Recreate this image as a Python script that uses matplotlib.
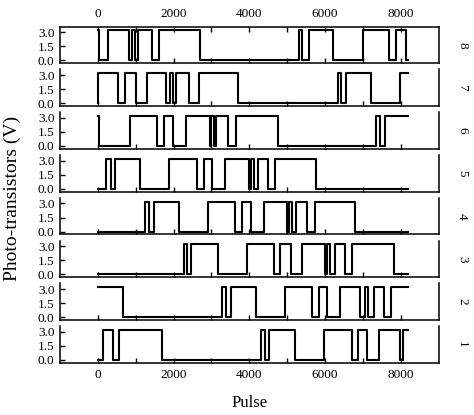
import matplotlib
matplotlib.use('Agg')
import matplotlib.pyplot as plt
from matplotlib.ticker import FixedLocator

plt.rcParams['font.family'] = ['Liberation Serif', 'DejaVu Serif']

# ---- data -------------------------------------------------------------
END_PULSE = 8192
HIGH = 3.2
channels = ['8', '7', '6', '5', '4', '3', '2', '1']

# initial state (1 = high) and pulse numbers at which the signal toggles
start_8 = 1
edges_8 = [30, 280, 820, 912, 970, 1050, 1436, 1611, 2706, 5316, 5395, 5570,
           6214, 6990, 7690, 7880, 8130]
start_7 = 0
edges_7 = [15, 530, 728, 995, 1306, 1810, 1905, 1985, 2050, 2400, 2665, 3708,
           6330, 6410, 6550, 7200, 7990]
start_6 = 1
edges_6 = [30, 858, 1569, 1745, 1990, 2314, 2960, 3000, 3065, 3120, 3440, 3660,
           4745, 7350, 7450, 7590]
start_5 = 0
edges_5 = [210, 342, 460, 1113, 1876, 2630, 2815, 3020, 3345, 3990, 4040, 4120,
           4230, 4505, 4670, 5750]
start_4 = 0
edges_4 = [1245, 1350, 1490, 2130, 2910, 3630, 3805, 4045, 4375, 4990, 5040,
           5118, 5240, 5530, 5725, 6790]
start_3 = 0
edges_3 = [2270, 2350, 2460, 3180, 3925, 4645, 4820, 5090, 5390, 6000, 6050,
           6125, 6260, 6530, 6718, 7825]
start_2 = 1
edges_2 = [660, 3285, 3390, 3520, 4176, 4943, 5662, 5830, 6060, 6405, 6930,
           7042, 7120, 7283, 7568, 7743]
start_1 = 0
edges_1 = [130, 390, 560, 1700, 4295, 4410, 4527, 5197, 5973, 6700, 6880, 7100,
           7432, 7965, 8070]

starts = [start_8, start_7, start_6, start_5, start_4, start_3, start_2, start_1]
edges = [edges_8, edges_7, edges_6, edges_5, edges_4, edges_3, edges_2, edges_1]

x_major = [0, 2000, 4000, 6000, 8000]
x_minor = [1000, 3000, 5000, 7000]
y_ticks = [0.0, 1.5, 3.0]
y_ticklabels = ['0.0', '1.5', '3.0']

# ---- layout -----------------------------------------------------------
W, H = 474, 415
fig = plt.figure(figsize=(W / 100, H / 100), dpi=100)
left_px, right_px = 60, 438.7
top0, ph, gap = 26.7, 36.5, 6.29

for i, ch in enumerate(channels):
    top = top0 + i * (ph + gap)
    ax = fig.add_axes([left_px / W, 1 - (top + ph) / H,
                       (right_px - left_px) / W, ph / H])
    # build the square wave
    xs = [0] + edges[i] + [END_PULSE]
    levels = []
    s = starts[i]
    levels.append(s)
    for _ in edges[i]:
        s = 1 - s
        levels.append(s)
    ys = [HIGH * v for v in levels] + [HIGH * levels[-1]]
    ax.step(xs, ys, where='post', color='black', lw=1.5)

    ax.set_xlim(-1000, 9000)
    ax.set_ylim(-0.3, 3.6)
    ax.xaxis.set_major_locator(FixedLocator(x_major))
    ax.xaxis.set_minor_locator(FixedLocator(x_minor))
    ax.set_yticks(y_ticks)
    ax.set_yticklabels(y_ticklabels)
    for sp in ax.spines.values():
        sp.set_linewidth(1.1)
    ax.spines['top'].set_visible(i == 0)

    ax.tick_params(axis='y', which='both', direction='in', length=3.5,
                   width=1.0, labelsize=9.5, pad=4, right=False)
    ax.tick_params(axis='x', which='both', direction='in', length=3.5,
                   width=1.0, labelsize=9.5, pad=4.5)
    if i == 0:
        ax.tick_params(axis='x', which='both', top=True, labeltop=True,
                       bottom=True, labelbottom=False)
    elif i == len(channels) - 1:
        ax.tick_params(axis='x', which='both', top=False, labelbottom=True)
    else:
        ax.tick_params(axis='x', which='both', top=False, labelbottom=False)

    fig.text(462 / W, 1 - (top + ph / 2) / H, ch, rotation=270,
             ha='center', va='center', fontsize=9.5)

fig.text(12 / W, 1 - 198 / H, 'Photo-transistors (V)', rotation=90,
         ha='center', va='center', fontsize=14)
fig.text(249.5 / W, 1 - 403 / H, 'Pulse', ha='center', va='center',
         fontsize=12)

fig.savefig('out.png', dpi=100)
